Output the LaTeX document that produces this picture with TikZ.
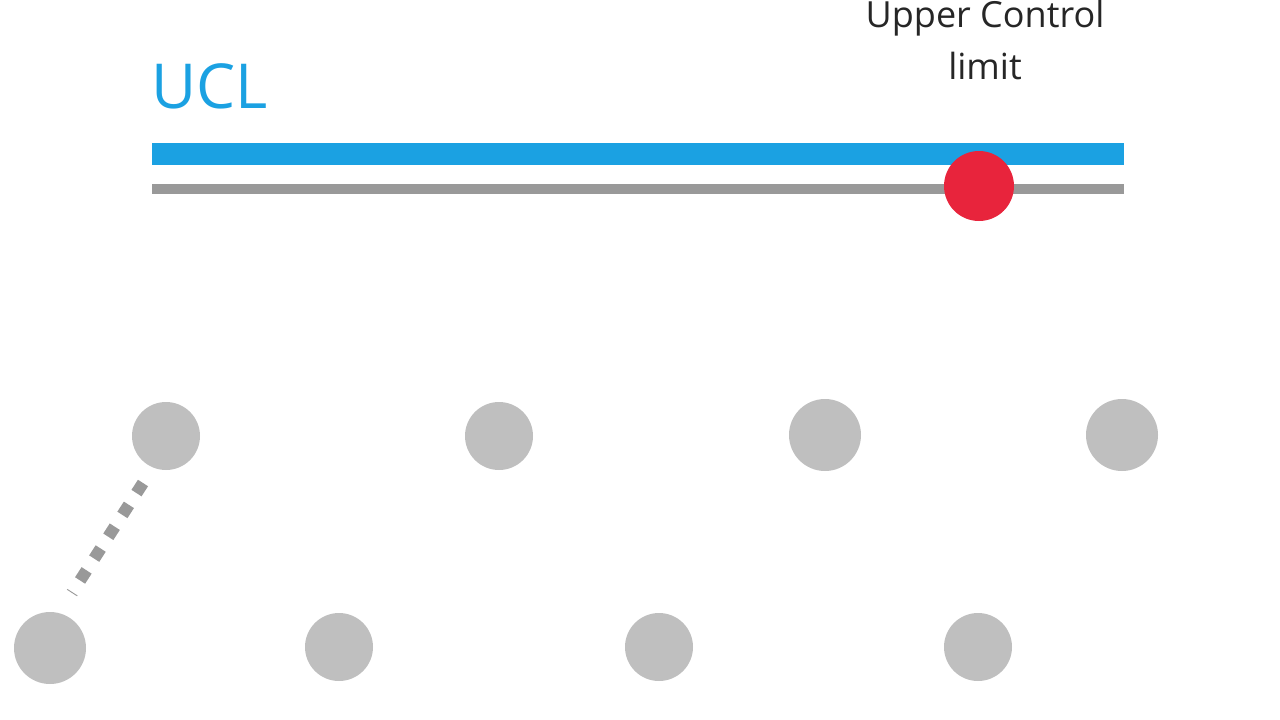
\documentclass[tikz,border=0pt]{standalone}
\usepackage{fontspec}
\setmainfont{Open Sans}
\definecolor{ublue}{HTML}{1BA1E2}
\definecolor{ured}{HTML}{E8243C}
\definecolor{ugray}{HTML}{BFBFBF}
\definecolor{lgray}{HTML}{999999}
\tikzset{dot/.style={circle,fill=ugray,inner sep=0pt}}
\begin{document}
\begin{tikzpicture}[x=1pt,y=-1pt]
\useasboundingbox (0,0) rectangle (1280,720);
\fill[ublue] (152,143) rectangle (1124,165);
\fill[lgray] (152,184) rectangle (1124,194);
\node[circle,fill=ured,minimum size=70pt,inner sep=0pt] (r) at (979,186) {};
\node[anchor=west,text=ublue,font=\fontsize{62}{62}\selectfont] (ucl) at (148,86) {UCL};
\node[align=center,text=black!85,font=\fontsize{36}{52}\selectfont] (ucltxt) at (985,40) {Upper Control\\limit};
\node[dot,minimum size=68pt] (a1) at (166,436) {};
\node[dot,minimum size=68pt] (a2) at (499,436) {};
\node[dot,minimum size=72pt] (a3) at (825,435) {};
\node[dot,minimum size=72pt] (a4) at (1122,435) {};
\node[dot,minimum size=72pt] (b1) at (50,648) {};
\node[dot,minimum size=68pt] (b2) at (339,647) {};
\node[dot,minimum size=68pt] (b3) at (659,647) {};
\node[dot,minimum size=68pt] (b4) at (978,647) {};
\coordinate (d1) at (143,483);
\coordinate (d2) at (72,593);
\draw[lgray,line width=12pt,dash pattern=on 12pt off 14pt] (d1) -- (d2);
\end{tikzpicture}
\end{document}
